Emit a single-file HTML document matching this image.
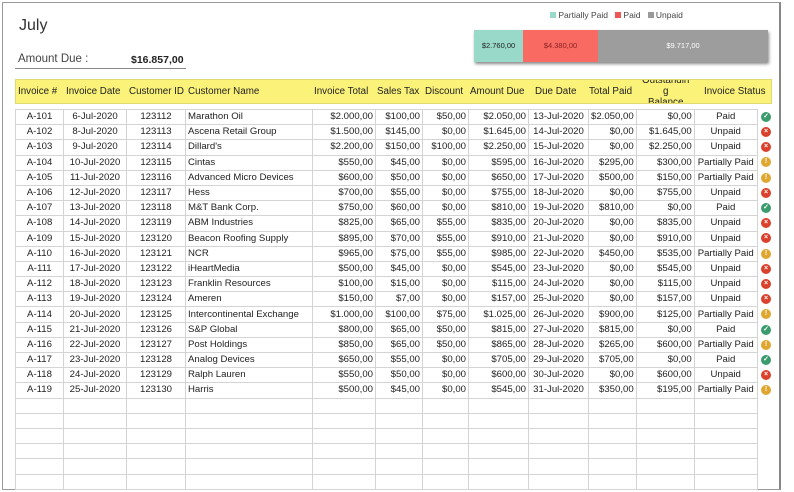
<!DOCTYPE html>
<html><head><meta charset="utf-8"><style>
body{margin:0;width:794px;height:492px;background:#fff;font-family:"Liberation Sans",sans-serif;position:relative;overflow:hidden;color:#222}
.frame{position:absolute;left:2px;top:2px;width:776px;height:486px;border:1px solid #999;border-right:2px solid #888;}
.abs{position:absolute}
table{border-collapse:collapse;position:absolute;left:15px;top:109px;font-size:9.6px;table-layout:fixed}
td{border:1px solid #d4d4d4;height:14.2px;padding:0 2px;white-space:nowrap;overflow:hidden;line-height:14px}
.c{text-align:center}.r{text-align:right}
.hdr{position:absolute;left:15px;top:79px;width:757px;height:25px;background:#fbf27a;border:1px solid #e0d870;box-sizing:border-box;font-size:9.8px;overflow:hidden}
.hdr span{position:absolute;top:6px;white-space:nowrap}
.ic{position:absolute;left:761px;width:10px;height:10px;border-radius:50%;font-size:7px;color:#fff;text-align:center;line-height:10px;font-weight:bold}
</style></head><body>
<div class="frame"></div>
<div class="abs" style="left:19px;top:17px;font-size:16px;color:#333">July</div>
<div class="abs" style="left:18px;top:53px;font-size:11.5px;color:#444">Amount Due :</div>
<div class="abs" style="left:131px;top:54px;font-size:10.5px;font-weight:bold">$16.857,00</div>
<div class="abs" style="left:15px;top:68px;width:171px;border-top:1px solid #888"></div>

<div class="abs" style="left:550px;top:10px;font-size:8.5px;color:#444"><span style="display:inline-block;width:6px;height:6px;background:#99d9c9"></span> Partially Paid &nbsp; <span style="display:inline-block;width:6px;height:6px;background:#f05555"></span> Paid &nbsp; <span style="display:inline-block;width:6px;height:6px;background:#999"></span> Unpaid</div>
<div class="abs" style="left:474px;top:30px;width:294px;height:32px;box-shadow:1px 2px 3px #888;display:flex;font-size:7.5px">
<div style="width:49px;background:#99d9c9;text-align:center;line-height:32px">$2.760,00</div>
<div style="width:75px;background:#f96a63;text-align:center;line-height:32px;color:#822">$4.380,00</div>
<div style="flex:1;background:#9d9d9d;text-align:center;line-height:32px;color:#fff">$9.717,00</div>
</div>

<div class="hdr">
<span style="left:2px">Invoice #</span><span style="left:50px">Invoice Date</span><span style="left:113px">Customer ID</span><span style="left:172px">Customer Name</span><span style="left:298px">Invoice Total</span><span style="left:361px">Sales Tax</span><span style="left:409px">Discount</span><span style="left:454px">Amount Due</span><span style="left:519px">Due Date</span><span style="left:573px">Total Paid</span><span style="left:626px;top:-5px;text-align:center;line-height:11px">Outstandin<br>g<br>Balance</span><span style="left:688px">Invoice Status</span>
</div>

<table>
<colgroup><col style="width:48px"><col style="width:63px"><col style="width:59px"><col style="width:127px"><col style="width:63px"><col style="width:47px"><col style="width:46px"><col style="width:60px"><col style="width:60px"><col style="width:47px"><col style="width:58px"><col style="width:63px"></colgroup>
<tbody>
<tr><td class="c">A-101</td><td class="c">6-Jul-2020</td><td class="c">123112</td><td>Marathon Oil</td><td class="r">$2.000,00</td><td class="r">$100,00</td><td class="r">$50,00</td><td class="r">$2.050,00</td><td class="c">13-Jul-2020</td><td class="r">$2.050,00</td><td class="r">$0,00</td><td class="c">Paid</td></tr>
<tr><td class="c">A-102</td><td class="c">8-Jul-2020</td><td class="c">123113</td><td>Ascena Retail Group</td><td class="r">$1.500,00</td><td class="r">$145,00</td><td class="r">$0,00</td><td class="r">$1.645,00</td><td class="c">14-Jul-2020</td><td class="r">$0,00</td><td class="r">$1.645,00</td><td class="c">Unpaid</td></tr>
<tr><td class="c">A-103</td><td class="c">9-Jul-2020</td><td class="c">123114</td><td>Dillard's</td><td class="r">$2.200,00</td><td class="r">$150,00</td><td class="r">$100,00</td><td class="r">$2.250,00</td><td class="c">15-Jul-2020</td><td class="r">$0,00</td><td class="r">$2.250,00</td><td class="c">Unpaid</td></tr>
<tr><td class="c">A-104</td><td class="c">10-Jul-2020</td><td class="c">123115</td><td>Cintas</td><td class="r">$550,00</td><td class="r">$45,00</td><td class="r">$0,00</td><td class="r">$595,00</td><td class="c">16-Jul-2020</td><td class="r">$295,00</td><td class="r">$300,00</td><td class="c">Partially Paid</td></tr>
<tr><td class="c">A-105</td><td class="c">11-Jul-2020</td><td class="c">123116</td><td>Advanced Micro Devices</td><td class="r">$600,00</td><td class="r">$50,00</td><td class="r">$0,00</td><td class="r">$650,00</td><td class="c">17-Jul-2020</td><td class="r">$500,00</td><td class="r">$150,00</td><td class="c">Partially Paid</td></tr>
<tr><td class="c">A-106</td><td class="c">12-Jul-2020</td><td class="c">123117</td><td>Hess</td><td class="r">$700,00</td><td class="r">$55,00</td><td class="r">$0,00</td><td class="r">$755,00</td><td class="c">18-Jul-2020</td><td class="r">$0,00</td><td class="r">$755,00</td><td class="c">Unpaid</td></tr>
<tr><td class="c">A-107</td><td class="c">13-Jul-2020</td><td class="c">123118</td><td>M&amp;T Bank Corp.</td><td class="r">$750,00</td><td class="r">$60,00</td><td class="r">$0,00</td><td class="r">$810,00</td><td class="c">19-Jul-2020</td><td class="r">$810,00</td><td class="r">$0,00</td><td class="c">Paid</td></tr>
<tr><td class="c">A-108</td><td class="c">14-Jul-2020</td><td class="c">123119</td><td>ABM Industries</td><td class="r">$825,00</td><td class="r">$65,00</td><td class="r">$55,00</td><td class="r">$835,00</td><td class="c">20-Jul-2020</td><td class="r">$0,00</td><td class="r">$835,00</td><td class="c">Unpaid</td></tr>
<tr><td class="c">A-109</td><td class="c">15-Jul-2020</td><td class="c">123120</td><td>Beacon Roofing Supply</td><td class="r">$895,00</td><td class="r">$70,00</td><td class="r">$55,00</td><td class="r">$910,00</td><td class="c">21-Jul-2020</td><td class="r">$0,00</td><td class="r">$910,00</td><td class="c">Unpaid</td></tr>
<tr><td class="c">A-110</td><td class="c">16-Jul-2020</td><td class="c">123121</td><td>NCR</td><td class="r">$965,00</td><td class="r">$75,00</td><td class="r">$55,00</td><td class="r">$985,00</td><td class="c">22-Jul-2020</td><td class="r">$450,00</td><td class="r">$535,00</td><td class="c">Partially Paid</td></tr>
<tr><td class="c">A-111</td><td class="c">17-Jul-2020</td><td class="c">123122</td><td>iHeartMedia</td><td class="r">$500,00</td><td class="r">$45,00</td><td class="r">$0,00</td><td class="r">$545,00</td><td class="c">23-Jul-2020</td><td class="r">$0,00</td><td class="r">$545,00</td><td class="c">Unpaid</td></tr>
<tr><td class="c">A-112</td><td class="c">18-Jul-2020</td><td class="c">123123</td><td>Franklin Resources</td><td class="r">$100,00</td><td class="r">$15,00</td><td class="r">$0,00</td><td class="r">$115,00</td><td class="c">24-Jul-2020</td><td class="r">$0,00</td><td class="r">$115,00</td><td class="c">Unpaid</td></tr>
<tr><td class="c">A-113</td><td class="c">19-Jul-2020</td><td class="c">123124</td><td>Ameren</td><td class="r">$150,00</td><td class="r">$7,00</td><td class="r">$0,00</td><td class="r">$157,00</td><td class="c">25-Jul-2020</td><td class="r">$0,00</td><td class="r">$157,00</td><td class="c">Unpaid</td></tr>
<tr><td class="c">A-114</td><td class="c">20-Jul-2020</td><td class="c">123125</td><td>Intercontinental Exchange</td><td class="r">$1.000,00</td><td class="r">$100,00</td><td class="r">$75,00</td><td class="r">$1.025,00</td><td class="c">26-Jul-2020</td><td class="r">$900,00</td><td class="r">$125,00</td><td class="c">Partially Paid</td></tr>
<tr><td class="c">A-115</td><td class="c">21-Jul-2020</td><td class="c">123126</td><td>S&amp;P Global</td><td class="r">$800,00</td><td class="r">$65,00</td><td class="r">$50,00</td><td class="r">$815,00</td><td class="c">27-Jul-2020</td><td class="r">$815,00</td><td class="r">$0,00</td><td class="c">Paid</td></tr>
<tr><td class="c">A-116</td><td class="c">22-Jul-2020</td><td class="c">123127</td><td>Post Holdings</td><td class="r">$850,00</td><td class="r">$65,00</td><td class="r">$50,00</td><td class="r">$865,00</td><td class="c">28-Jul-2020</td><td class="r">$265,00</td><td class="r">$600,00</td><td class="c">Partially Paid</td></tr>
<tr><td class="c">A-117</td><td class="c">23-Jul-2020</td><td class="c">123128</td><td>Analog Devices</td><td class="r">$650,00</td><td class="r">$55,00</td><td class="r">$0,00</td><td class="r">$705,00</td><td class="c">29-Jul-2020</td><td class="r">$705,00</td><td class="r">$0,00</td><td class="c">Paid</td></tr>
<tr><td class="c">A-118</td><td class="c">24-Jul-2020</td><td class="c">123129</td><td>Ralph Lauren</td><td class="r">$550,00</td><td class="r">$50,00</td><td class="r">$0,00</td><td class="r">$600,00</td><td class="c">30-Jul-2020</td><td class="r">$0,00</td><td class="r">$600,00</td><td class="c">Unpaid</td></tr>
<tr><td class="c">A-119</td><td class="c">25-Jul-2020</td><td class="c">123130</td><td>Harris</td><td class="r">$500,00</td><td class="r">$45,00</td><td class="r">$0,00</td><td class="r">$545,00</td><td class="c">31-Jul-2020</td><td class="r">$350,00</td><td class="r">$195,00</td><td class="c">Partially Paid</td></tr>
<tr><td></td><td></td><td></td><td></td><td></td><td></td><td></td><td></td><td></td><td></td><td></td><td></td></tr>
<tr><td></td><td></td><td></td><td></td><td></td><td></td><td></td><td></td><td></td><td></td><td></td><td></td></tr>
<tr><td></td><td></td><td></td><td></td><td></td><td></td><td></td><td></td><td></td><td></td><td></td><td></td></tr>
<tr><td></td><td></td><td></td><td></td><td></td><td></td><td></td><td></td><td></td><td></td><td></td><td></td></tr>
<tr><td></td><td></td><td></td><td></td><td></td><td></td><td></td><td></td><td></td><td></td><td></td><td></td></tr>
<tr><td></td><td></td><td></td><td></td><td></td><td></td><td></td><td></td><td></td><td></td><td></td><td></td></tr>
</tbody></table>

<div class="ic" style="top:112px;background:#3a9c6c">✓</div>
<div class="ic" style="top:127px;background:#d9412c">×</div>
<div class="ic" style="top:142px;background:#d9412c">×</div>
<div class="ic" style="top:157px;background:#e0a630">!</div>
<div class="ic" style="top:173px;background:#e0a630">!</div>
<div class="ic" style="top:188px;background:#d9412c">×</div>
<div class="ic" style="top:203px;background:#3a9c6c">✓</div>
<div class="ic" style="top:218px;background:#d9412c">×</div>
<div class="ic" style="top:233px;background:#d9412c">×</div>
<div class="ic" style="top:249px;background:#e0a630">!</div>
<div class="ic" style="top:264px;background:#d9412c">×</div>
<div class="ic" style="top:279px;background:#d9412c">×</div>
<div class="ic" style="top:294px;background:#d9412c">×</div>
<div class="ic" style="top:309px;background:#e0a630">!</div>
<div class="ic" style="top:325px;background:#3a9c6c">✓</div>
<div class="ic" style="top:340px;background:#e0a630">!</div>
<div class="ic" style="top:355px;background:#3a9c6c">✓</div>
<div class="ic" style="top:370px;background:#d9412c">×</div>
<div class="ic" style="top:385px;background:#e0a630">!</div>
</body></html>
